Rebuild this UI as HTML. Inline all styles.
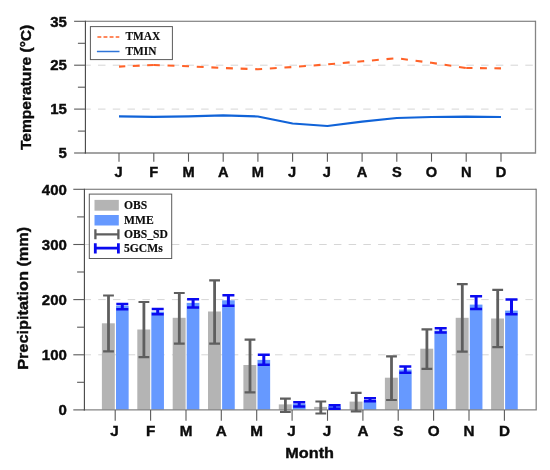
<!DOCTYPE html>
<html><head><meta charset="utf-8"><title>Chart</title>
<style>
html,body{margin:0;padding:0;background:#fff}
svg{display:block}
text{font-family:"Liberation Sans","Noto Sans CJK SC",sans-serif;font-weight:bold;fill:#0c0c0c;stroke:#0c0c0c;stroke-width:0.4px}
.tk{font-size:15px}
.mu{font-size:14.2px}
.ml{font-size:14.8px}
.yl{font-size:14.5px}
.xl{font-size:15.2px}
.lg1{font-family:"Liberation Serif",serif;font-size:13.4px;stroke-width:0.15px}
.lg2{font-family:"Liberation Serif",serif;font-size:11.6px;stroke-width:0.15px}
</style></head><body>
<svg width="550" height="470" viewBox="0 0 550 470">
<rect width="550" height="470" fill="#fff"/>
<line x1="85.4" x2="535.5" y1="109.1" y2="109.1" stroke="#d6d6d6" stroke-width="1" stroke-dasharray="7.5,7.234" stroke-dashoffset="2.13"/>
<line x1="85.4" x2="535.5" y1="65.2" y2="65.2" stroke="#d6d6d6" stroke-width="1" stroke-dasharray="7.5,7.234" stroke-dashoffset="2.13"/>
<path d="M85.4 153.0H535.5V21.3" fill="none" stroke="#858585" stroke-width="1.3" stroke-linecap="square"/>
<path d="M85.4 21.3H535.5" fill="none" stroke="#686868" stroke-width="1.1"/>
<path d="M85.4 20.8V153.6" fill="none" stroke="#444" stroke-width="1.1"/>
<line x1="74.10000000000001" x2="85.4" y1="153.0" y2="153.0" stroke="#5a5a5a" stroke-width="1.1"/>
<text class="tk" transform="translate(66.9,158.2) scale(1.0,1)" text-anchor="end">5</text>
<line x1="77.9" x2="85.4" y1="131.1" y2="131.1" stroke="#5a5a5a" stroke-width="1.1"/>
<line x1="74.10000000000001" x2="85.4" y1="109.1" y2="109.1" stroke="#5a5a5a" stroke-width="1.1"/>
<text class="tk" transform="translate(66.9,114.3) scale(1.0,1)" text-anchor="end">15</text>
<line x1="77.9" x2="85.4" y1="87.2" y2="87.2" stroke="#5a5a5a" stroke-width="1.1"/>
<line x1="74.10000000000001" x2="85.4" y1="65.2" y2="65.2" stroke="#5a5a5a" stroke-width="1.1"/>
<text class="tk" transform="translate(66.9,70.4) scale(1.0,1)" text-anchor="end">25</text>
<line x1="77.9" x2="85.4" y1="43.3" y2="43.3" stroke="#5a5a5a" stroke-width="1.1"/>
<line x1="74.10000000000001" x2="85.4" y1="21.3" y2="21.3" stroke="#5a5a5a" stroke-width="1.1"/>
<text class="tk" transform="translate(66.9,26.5) scale(1.0,1)" text-anchor="end">35</text>
<line x1="119.0" x2="119.0" y1="153.0" y2="161.7" stroke="#5a5a5a" stroke-width="1.1"/>
<text class="mu" transform="translate(118.5,177.4) scale(1.03,1)" text-anchor="middle">J</text>
<line x1="153.8" x2="153.8" y1="153.0" y2="161.7" stroke="#5a5a5a" stroke-width="1.1"/>
<text class="mu" transform="translate(153.8,177.4) scale(1.03,1)" text-anchor="middle">F</text>
<line x1="188.5" x2="188.5" y1="153.0" y2="161.7" stroke="#5a5a5a" stroke-width="1.1"/>
<text class="mu" transform="translate(188.5,177.4) scale(1.03,1)" text-anchor="middle">M</text>
<line x1="223.2" x2="223.2" y1="153.0" y2="161.7" stroke="#5a5a5a" stroke-width="1.1"/>
<text class="mu" transform="translate(223.2,177.4) scale(1.03,1)" text-anchor="middle">A</text>
<line x1="257.9" x2="257.9" y1="153.0" y2="161.7" stroke="#5a5a5a" stroke-width="1.1"/>
<text class="mu" transform="translate(257.9,177.4) scale(1.03,1)" text-anchor="middle">M</text>
<line x1="292.6" x2="292.6" y1="153.0" y2="161.7" stroke="#5a5a5a" stroke-width="1.1"/>
<text class="mu" transform="translate(292.0,177.4) scale(1.03,1)" text-anchor="middle">J</text>
<line x1="327.4" x2="327.4" y1="153.0" y2="161.7" stroke="#5a5a5a" stroke-width="1.1"/>
<text class="mu" transform="translate(326.8,177.4) scale(1.03,1)" text-anchor="middle">J</text>
<line x1="362.1" x2="362.1" y1="153.0" y2="161.7" stroke="#5a5a5a" stroke-width="1.1"/>
<text class="mu" transform="translate(362.1,177.4) scale(1.03,1)" text-anchor="middle">A</text>
<line x1="396.8" x2="396.8" y1="153.0" y2="161.7" stroke="#5a5a5a" stroke-width="1.1"/>
<text class="mu" transform="translate(396.8,177.4) scale(1.03,1)" text-anchor="middle">S</text>
<line x1="431.5" x2="431.5" y1="153.0" y2="161.7" stroke="#5a5a5a" stroke-width="1.1"/>
<text class="mu" transform="translate(431.5,177.4) scale(1.03,1)" text-anchor="middle">O</text>
<line x1="466.2" x2="466.2" y1="153.0" y2="161.7" stroke="#5a5a5a" stroke-width="1.1"/>
<text class="mu" transform="translate(466.2,177.4) scale(1.03,1)" text-anchor="middle">N</text>
<line x1="501.0" x2="501.0" y1="153.0" y2="161.7" stroke="#5a5a5a" stroke-width="1.1"/>
<text class="mu" transform="translate(501.0,177.4) scale(1.03,1)" text-anchor="middle">D</text>
<polyline points="119.0,66.6 153.8,65.0" fill="none" stroke="#ff6228" stroke-width="2.1" stroke-dasharray="6.9,7.5" stroke-dashoffset="0.6"/>
<polyline points="153.8,65.0 188.5,66.3 223.2,68.0 257.9,69.2 292.6,67.0 327.4,64.4 362.1,61.3 396.8,58.2 431.5,62.8 466.2,68.0" fill="none" stroke="#ff6228" stroke-width="2.1" stroke-dasharray="6.9,7.73" stroke-dashoffset="0.9"/>
<polyline points="466.2,68.0 501.0,68.4" fill="none" stroke="#ff6228" stroke-width="2.1" stroke-dasharray="6.9,7.5" stroke-dashoffset="0.6"/>
<polyline points="119.0,116.4 153.8,116.9 188.5,116.4 223.2,115.3 257.9,116.5 292.6,123.5 327.4,126.0 362.1,121.6 396.8,118.0 431.5,117.0 466.2,116.6 501.0,117.0" fill="none" stroke="#1063d8" stroke-width="2.2" stroke-linejoin="round"/>
<rect x="90.4" y="26.6" width="82.0" height="33.0" fill="#fff" stroke="#5a5a5a" stroke-width="1"/>
<line x1="97.4" x2="119.3" y1="37.1" y2="37.1" stroke="#ff6228" stroke-width="1.5" stroke-dasharray="3.9,2.2"/>
<line x1="96.9" x2="119.5" y1="51.5" y2="51.5" stroke="#2f74d8" stroke-width="1.5"/>
<text class="lg1" transform="translate(125.5,40.4) scale(0.85,1)" text-anchor="start">TMAX</text>
<text class="lg1" transform="translate(125.5,54.5) scale(0.85,1)" text-anchor="start">TMIN</text>
<text class="yl" transform="translate(30.9,87.4) rotate(-90) scale(1.075,1)" text-anchor="middle">Temperature (°C)</text>
<line x1="84.4" x2="536.2" y1="354.8" y2="354.8" stroke="#d6d6d6" stroke-width="1" stroke-dasharray="7.5,7.23" stroke-dashoffset="0.9"/>
<line x1="84.4" x2="536.2" y1="299.6" y2="299.6" stroke="#d6d6d6" stroke-width="1" stroke-dasharray="7.5,7.23" stroke-dashoffset="0.9"/>
<line x1="84.4" x2="536.2" y1="244.5" y2="244.5" stroke="#d6d6d6" stroke-width="1" stroke-dasharray="7.5,7.23" stroke-dashoffset="0.9"/>
<rect x="101.9" y="323.3" width="12.9" height="86.6" fill="#b4b4b4"/>
<rect x="116.0" y="305.8" width="12.65" height="104.1" fill="#6699ff"/>
<rect x="137.3" y="329.5" width="12.9" height="80.4" fill="#b4b4b4"/>
<rect x="151.3" y="311.7" width="12.65" height="98.2" fill="#6699ff"/>
<rect x="172.7" y="317.8" width="12.9" height="92.1" fill="#b4b4b4"/>
<rect x="186.7" y="302.9" width="12.65" height="107.0" fill="#6699ff"/>
<rect x="208.0" y="311.5" width="12.9" height="98.4" fill="#b4b4b4"/>
<rect x="222.1" y="300.3" width="12.65" height="109.6" fill="#6699ff"/>
<rect x="243.4" y="365.0" width="12.9" height="44.9" fill="#b4b4b4"/>
<rect x="257.5" y="359.9" width="12.65" height="50.0" fill="#6699ff"/>
<rect x="278.8" y="404.4" width="12.9" height="5.5" fill="#b4b4b4"/>
<rect x="292.9" y="403.8" width="12.65" height="6.1" fill="#6699ff"/>
<rect x="314.2" y="406.9" width="12.9" height="3.0" fill="#b4b4b4"/>
<rect x="328.2" y="406.0" width="12.65" height="3.9" fill="#6699ff"/>
<rect x="349.6" y="401.6" width="12.9" height="8.3" fill="#b4b4b4"/>
<rect x="363.6" y="400.5" width="12.65" height="9.4" fill="#6699ff"/>
<rect x="384.9" y="377.7" width="12.9" height="32.2" fill="#b4b4b4"/>
<rect x="399.0" y="369.5" width="12.65" height="40.4" fill="#6699ff"/>
<rect x="420.3" y="348.7" width="12.9" height="61.2" fill="#b4b4b4"/>
<rect x="434.4" y="330.6" width="12.65" height="79.3" fill="#6699ff"/>
<rect x="455.7" y="317.8" width="12.9" height="92.1" fill="#b4b4b4"/>
<rect x="469.8" y="304.6" width="12.65" height="105.3" fill="#6699ff"/>
<rect x="491.1" y="318.5" width="12.9" height="91.4" fill="#b4b4b4"/>
<rect x="505.1" y="310.6" width="12.65" height="99.3" fill="#6699ff"/>
<path d="M84.4 409.9H536.2V189.3" fill="none" stroke="#858585" stroke-width="1.3" stroke-linecap="square"/>
<path d="M84.4 189.3H536.2" fill="none" stroke="#686868" stroke-width="1.1"/>
<path d="M84.4 188.8V410.5" fill="none" stroke="#444" stroke-width="1.1"/>
<path d="M108.5 351.4V295.5" stroke="#5e5e5e" stroke-width="2.8" fill="none"/>
<path d="M103.1 351.4h10.8M103.1 295.5h10.8" stroke="#5e5e5e" stroke-width="2.2" fill="none"/>
<path d="M122.3 309.3V304.0" stroke="#0a0af0" stroke-width="3" fill="none"/>
<path d="M116.3 309.3h12M116.3 304.0h12" stroke="#0a0af0" stroke-width="2.5" fill="none"/>
<path d="M143.9 357.1V302.0" stroke="#5e5e5e" stroke-width="2.8" fill="none"/>
<path d="M138.5 357.1h10.8M138.5 302.0h10.8" stroke="#5e5e5e" stroke-width="2.2" fill="none"/>
<path d="M157.7 314.3V309.1" stroke="#0a0af0" stroke-width="3" fill="none"/>
<path d="M151.7 314.3h12M151.7 309.1h12" stroke="#0a0af0" stroke-width="2.5" fill="none"/>
<path d="M179.3 343.7V293.0" stroke="#5e5e5e" stroke-width="2.8" fill="none"/>
<path d="M173.9 343.7h10.8M173.9 293.0h10.8" stroke="#5e5e5e" stroke-width="2.2" fill="none"/>
<path d="M193.1 307.4V299.3" stroke="#0a0af0" stroke-width="3" fill="none"/>
<path d="M187.1 307.4h12M187.1 299.3h12" stroke="#0a0af0" stroke-width="2.5" fill="none"/>
<path d="M214.6 343.7V280.3" stroke="#5e5e5e" stroke-width="2.8" fill="none"/>
<path d="M209.2 343.7h10.8M209.2 280.3h10.8" stroke="#5e5e5e" stroke-width="2.2" fill="none"/>
<path d="M228.4 305.7V295.3" stroke="#0a0af0" stroke-width="3" fill="none"/>
<path d="M222.4 305.7h12M222.4 295.3h12" stroke="#0a0af0" stroke-width="2.5" fill="none"/>
<path d="M250.0 392.3V339.6" stroke="#5e5e5e" stroke-width="2.8" fill="none"/>
<path d="M244.6 392.3h10.8M244.6 339.6h10.8" stroke="#5e5e5e" stroke-width="2.2" fill="none"/>
<path d="M263.8 364.7V354.8" stroke="#0a0af0" stroke-width="3" fill="none"/>
<path d="M257.8 364.7h12M257.8 354.8h12" stroke="#0a0af0" stroke-width="2.5" fill="none"/>
<path d="M285.4 411.8V398.6" stroke="#5e5e5e" stroke-width="2.8" fill="none"/>
<path d="M280.0 411.8h10.8M280.0 398.6h10.8" stroke="#5e5e5e" stroke-width="2.2" fill="none"/>
<path d="M299.2 406.5V402.3" stroke="#0a0af0" stroke-width="3" fill="none"/>
<path d="M293.2 406.5h12M293.2 402.3h12" stroke="#0a0af0" stroke-width="2.5" fill="none"/>
<path d="M320.8 413.5V401.5" stroke="#5e5e5e" stroke-width="2.8" fill="none"/>
<path d="M315.4 413.5h10.8M315.4 401.5h10.8" stroke="#5e5e5e" stroke-width="2.2" fill="none"/>
<path d="M334.6 408.8V405.3" stroke="#0a0af0" stroke-width="3" fill="none"/>
<path d="M328.6 408.8h12M328.6 405.3h12" stroke="#0a0af0" stroke-width="2.5" fill="none"/>
<path d="M356.2 411.3V392.8" stroke="#5e5e5e" stroke-width="2.8" fill="none"/>
<path d="M350.8 411.3h10.8M350.8 392.8h10.8" stroke="#5e5e5e" stroke-width="2.2" fill="none"/>
<path d="M370.0 401.2V398.2" stroke="#0a0af0" stroke-width="3" fill="none"/>
<path d="M364.0 401.2h12M364.0 398.2h12" stroke="#0a0af0" stroke-width="2.5" fill="none"/>
<path d="M391.5 400.0V356.4" stroke="#5e5e5e" stroke-width="2.8" fill="none"/>
<path d="M386.1 400.0h10.8M386.1 356.4h10.8" stroke="#5e5e5e" stroke-width="2.2" fill="none"/>
<path d="M405.3 372.7V366.6" stroke="#0a0af0" stroke-width="3" fill="none"/>
<path d="M399.3 372.7h12M399.3 366.6h12" stroke="#0a0af0" stroke-width="2.5" fill="none"/>
<path d="M426.9 368.8V329.4" stroke="#5e5e5e" stroke-width="2.8" fill="none"/>
<path d="M421.5 368.8h10.8M421.5 329.4h10.8" stroke="#5e5e5e" stroke-width="2.2" fill="none"/>
<path d="M440.7 332.5V328.3" stroke="#0a0af0" stroke-width="3" fill="none"/>
<path d="M434.7 332.5h12M434.7 328.3h12" stroke="#0a0af0" stroke-width="2.5" fill="none"/>
<path d="M462.3 351.6V284.2" stroke="#5e5e5e" stroke-width="2.8" fill="none"/>
<path d="M456.9 351.6h10.8M456.9 284.2h10.8" stroke="#5e5e5e" stroke-width="2.2" fill="none"/>
<path d="M476.1 309.0V296.3" stroke="#0a0af0" stroke-width="3" fill="none"/>
<path d="M470.1 309.0h12M470.1 296.3h12" stroke="#0a0af0" stroke-width="2.5" fill="none"/>
<path d="M497.7 347.1V289.8" stroke="#5e5e5e" stroke-width="2.8" fill="none"/>
<path d="M492.3 347.1h10.8M492.3 289.8h10.8" stroke="#5e5e5e" stroke-width="2.2" fill="none"/>
<path d="M511.5 314.3V299.6" stroke="#0a0af0" stroke-width="3" fill="none"/>
<path d="M505.5 314.3h12M505.5 299.6h12" stroke="#0a0af0" stroke-width="2.5" fill="none"/>
<line x1="73.30000000000001" x2="84.4" y1="409.9" y2="409.9" stroke="#5a5a5a" stroke-width="1.1"/>
<text class="tk" transform="translate(66.9,415.1) scale(1.0,1)" text-anchor="end">0</text>
<line x1="77.10000000000001" x2="84.4" y1="382.3" y2="382.3" stroke="#5a5a5a" stroke-width="1.1"/>
<line x1="73.30000000000001" x2="84.4" y1="354.8" y2="354.8" stroke="#5a5a5a" stroke-width="1.1"/>
<text class="tk" transform="translate(66.9,359.9) scale(1.0,1)" text-anchor="end">100</text>
<line x1="77.10000000000001" x2="84.4" y1="327.2" y2="327.2" stroke="#5a5a5a" stroke-width="1.1"/>
<line x1="73.30000000000001" x2="84.4" y1="299.6" y2="299.6" stroke="#5a5a5a" stroke-width="1.1"/>
<text class="tk" transform="translate(66.9,304.8) scale(1.0,1)" text-anchor="end">200</text>
<line x1="77.10000000000001" x2="84.4" y1="272.0" y2="272.0" stroke="#5a5a5a" stroke-width="1.1"/>
<line x1="73.30000000000001" x2="84.4" y1="244.5" y2="244.5" stroke="#5a5a5a" stroke-width="1.1"/>
<text class="tk" transform="translate(66.9,249.7) scale(1.0,1)" text-anchor="end">300</text>
<line x1="77.10000000000001" x2="84.4" y1="216.9" y2="216.9" stroke="#5a5a5a" stroke-width="1.1"/>
<line x1="73.30000000000001" x2="84.4" y1="189.3" y2="189.3" stroke="#5a5a5a" stroke-width="1.1"/>
<text class="tk" transform="translate(66.9,194.5) scale(1.0,1)" text-anchor="end">400</text>
<line x1="115.2" x2="115.2" y1="409.9" y2="420.8" stroke="#5a5a5a" stroke-width="1.1"/>
<text class="ml" transform="translate(114.6,436.0) scale(1.03,1)" text-anchor="middle">J</text>
<line x1="150.6" x2="150.6" y1="409.9" y2="420.8" stroke="#5a5a5a" stroke-width="1.1"/>
<text class="ml" transform="translate(150.6,436.0) scale(1.03,1)" text-anchor="middle">F</text>
<line x1="186.0" x2="186.0" y1="409.9" y2="420.8" stroke="#5a5a5a" stroke-width="1.1"/>
<text class="ml" transform="translate(186.0,436.0) scale(1.03,1)" text-anchor="middle">M</text>
<line x1="221.3" x2="221.3" y1="409.9" y2="420.8" stroke="#5a5a5a" stroke-width="1.1"/>
<text class="ml" transform="translate(221.3,436.0) scale(1.03,1)" text-anchor="middle">A</text>
<line x1="256.7" x2="256.7" y1="409.9" y2="420.8" stroke="#5a5a5a" stroke-width="1.1"/>
<text class="ml" transform="translate(256.7,436.0) scale(1.03,1)" text-anchor="middle">M</text>
<line x1="292.1" x2="292.1" y1="409.9" y2="420.8" stroke="#5a5a5a" stroke-width="1.1"/>
<text class="ml" transform="translate(291.5,436.0) scale(1.03,1)" text-anchor="middle">J</text>
<line x1="327.5" x2="327.5" y1="409.9" y2="420.8" stroke="#5a5a5a" stroke-width="1.1"/>
<text class="ml" transform="translate(326.9,436.0) scale(1.03,1)" text-anchor="middle">J</text>
<line x1="362.9" x2="362.9" y1="409.9" y2="420.8" stroke="#5a5a5a" stroke-width="1.1"/>
<text class="ml" transform="translate(362.9,436.0) scale(1.03,1)" text-anchor="middle">A</text>
<line x1="398.2" x2="398.2" y1="409.9" y2="420.8" stroke="#5a5a5a" stroke-width="1.1"/>
<text class="ml" transform="translate(398.2,436.0) scale(1.03,1)" text-anchor="middle">S</text>
<line x1="433.6" x2="433.6" y1="409.9" y2="420.8" stroke="#5a5a5a" stroke-width="1.1"/>
<text class="ml" transform="translate(433.6,436.0) scale(1.03,1)" text-anchor="middle">O</text>
<line x1="469.0" x2="469.0" y1="409.9" y2="420.8" stroke="#5a5a5a" stroke-width="1.1"/>
<text class="ml" transform="translate(469.0,436.0) scale(1.03,1)" text-anchor="middle">N</text>
<line x1="504.4" x2="504.4" y1="409.9" y2="420.8" stroke="#5a5a5a" stroke-width="1.1"/>
<text class="ml" transform="translate(504.4,436.0) scale(1.03,1)" text-anchor="middle">D</text>
<rect x="89.3" y="194.1" width="82.4" height="64.4" fill="#fff" stroke="#5a5a5a" stroke-width="1"/>
<rect x="94.5" y="199.9" width="24.3" height="10.8" fill="#b4b4b4"/>
<rect x="94.5" y="215" width="24.3" height="10.5" fill="#6699ff"/>
<path d="M95.4 234.3H118.4M95.4 229.2v10.1M118.4 229.2v10.1" stroke="#5e5e5e" stroke-width="2.3" fill="none"/>
<path d="M95.3 248.1H118.4M95.3 243.2v10.3M118.4 243.2v10.3" stroke="#0a0af0" stroke-width="2.8" fill="none"/>
<text class="lg2" transform="translate(124,209.3) scale(1,1)" text-anchor="start">OBS</text>
<text class="lg2" transform="translate(124,223.9) scale(1,1)" text-anchor="start">MME</text>
<text class="lg2" transform="translate(124,238.2) scale(1,1)" text-anchor="start">OBS_SD</text>
<text class="lg2" transform="translate(124,251.5) scale(1,1)" text-anchor="start">5GCMs</text>
<text class="yl" transform="translate(27.7,298.3) rotate(-90) scale(1.125,1)" text-anchor="middle">Precipitation (mm)</text>
<text class="xl" transform="translate(309.6,458.3) scale(1.07,1)" text-anchor="middle">Month</text>
</svg>
</body></html>
